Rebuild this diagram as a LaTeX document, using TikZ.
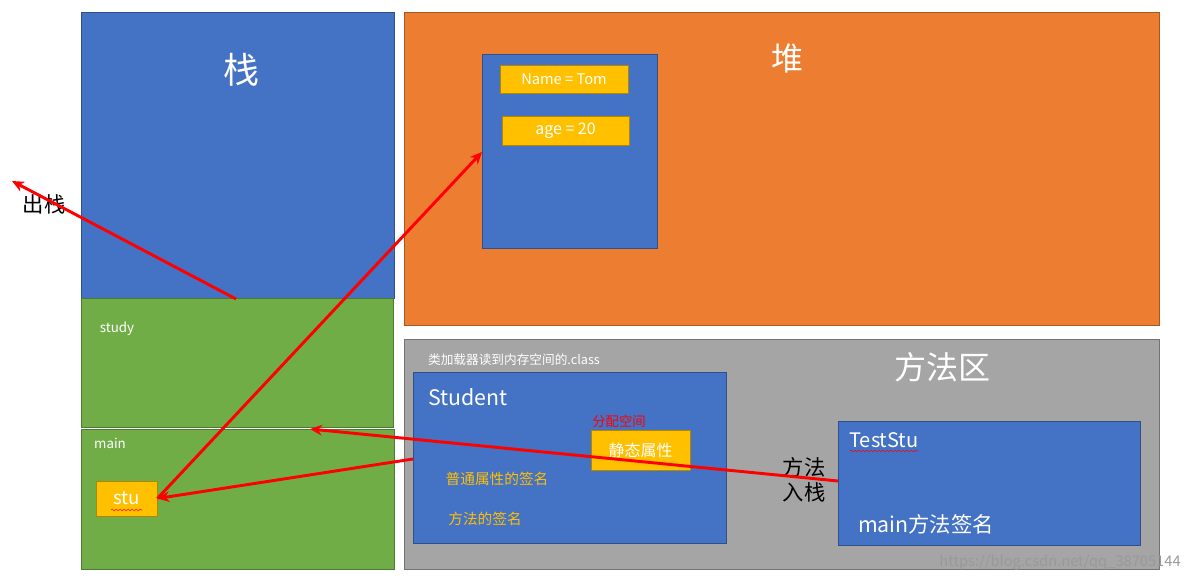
\documentclass[tikz,border=0pt]{standalone}
\usepackage{fontspec}
\setmainfont{Noto Sans CJK SC}
\usetikzlibrary{arrows.meta,decorations.pathmorphing}
\definecolor{blu}{HTML}{4472C4}
\definecolor{org}{HTML}{ED7D31}
\definecolor{grn}{HTML}{70AD47}
\definecolor{gry}{HTML}{A5A5A5}
\definecolor{yel}{HTML}{FFC000}
\tikzset{
 box/.style={draw=#1!70!black, fill=#1, line width=0.6pt},
 lbl/.style={text=white, inner sep=0pt},
 arr/.style={draw=red, line width=2.2pt, -{Stealth[length=9pt,width=8pt]}}
}
\begin{document}
\begin{tikzpicture}[x=0.75pt,y=-0.75pt]
\useasboundingbox (0,0) rectangle (1193,581);
% stack
\draw[box=blu] (81,12) rectangle (394,298);
\node[lbl,font=\fontsize{27}{30}\selectfont] (zhan) at (241,70) {栈};
\draw[box=grn] (81,298) rectangle (393,427);
\node[lbl,font=\fontsize{10}{12}\selectfont] (study) at (117,329) {study};
\draw[box=grn] (81,429) rectangle (394,569);
\node[lbl,font=\fontsize{10}{12}\selectfont] (mainl) at (110,443) {main};
\node[box=yel, minimum width=45.75pt, minimum height=26.25pt, inner sep=0pt, text=white, font=\fontsize{14}{16}\selectfont] (stu) at (126.5,498.5) {stu};
\draw[red, decorate, decoration={snake,amplitude=0.6pt,segment length=3pt}] (111,510) -- (142,510);
% heap
\draw[box=org] (404,12) rectangle (1159,325);
\node[lbl,font=\fontsize{24}{28}\selectfont] (dui) at (787,58) {堆};
\draw[box=blu] (482,54) rectangle (657,248);
\coordinate (objl) at (482,152);
\node[box=yel, minimum width=96pt, minimum height=21pt, inner sep=0pt, text=white, font=\fontsize{11}{13}\selectfont] (name) at (564,79) {Name = Tom};
\node[box=yel, minimum width=95.25pt, minimum height=21.75pt, inner sep=0pt, text=white, font=\fontsize{12}{14}\selectfont] (age) at (565.5,130.5) {age = 20};
% method area
\draw[box=gry] (404,339) rectangle (1159,569);
\node[lbl,font=\fontsize{9.5}{11}\selectfont] (cls) at (514,360) {类加载器读到内存空间的.class};
\node[lbl,font=\fontsize{24}{28}\selectfont] (ff) at (942,367) {方法区};
\draw[box=blu] (413,372) rectangle (726,543);
\coordinate (studl) at (413,459);
\node[lbl,font=\fontsize{16}{19}\selectfont] (student) at (468,397) {Student};
\node[text=red,inner sep=0pt,font=\fontsize{10}{12}\selectfont] (fp) at (619,421) {分配空间};
\node[box=yel, minimum width=74.25pt, minimum height=30pt, inner sep=0pt, text=white, font=\fontsize{12}{14}\selectfont] (static) at (640.5,450) {静态属性};
\node[text=yel,inner sep=0pt,font=\fontsize{11}{13}\selectfont] (pt) at (497,479) {普通属性的签名};
\node[text=yel,inner sep=0pt,font=\fontsize{11}{13}\selectfont] (ffq) at (485,519) {方法的签名};
\draw[box=blu] (838,421) rectangle (1140,545);
\coordinate (tsl) at (838,481);
\node[lbl,font=\fontsize{15}{18}\selectfont] (ts) at (884,440) {TestStu};
\draw[red, decorate, decoration={snake,amplitude=0.5pt,segment length=3pt}] (850,451) -- (918,451);
\node[lbl,font=\fontsize{16}{19}\selectfont] (msig) at (926,524) {main方法签名};
% labels
\node[align=center,inner sep=0pt,font=\fontsize{16}{19}\selectfont] (rz) at (804,480) {方法\\入栈};
\node[inner sep=0pt,font=\fontsize{16}{19}\selectfont] (cz) at (44,204) {出栈};
\node[text=gray!80,inner sep=0pt,font=\fontsize{11}{13}\selectfont] (wm) at (1060,562) {https://blog.csdn.net/qq\_38705144};
% arrows
\coordinate (s1) at (236,299);
\coordinate (e1) at (12,181);
\coordinate (e4) at (310,429);
\draw[arr] (s1) -- (e1);
\draw[arr] (stu.east) -- (objl);
\draw[arr] (studl) -- (stu.east);
\draw[arr] (tsl) -- (e4);
\end{tikzpicture}
\end{document}
